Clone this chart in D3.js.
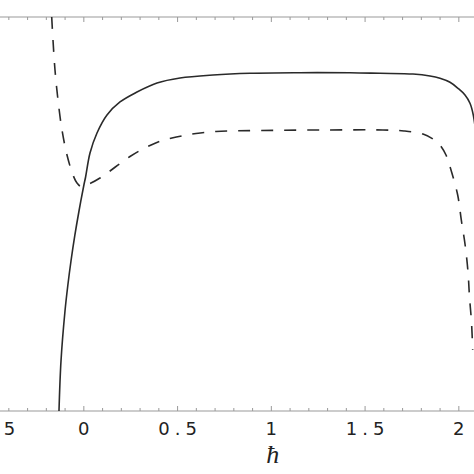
<!DOCTYPE html>
<html><head><meta charset="utf-8">
<script src="https://cdn.jsdelivr.net/npm/d3@7"></script>
<style>
html,body{margin:0;padding:0;background:#fff;}
svg{display:block;}
</style></head>
<body>
<script>
// x values (ħ) and y values (arbitrary units, unlabeled axis)
const solidX = [-0.1298,-0.1191,-0.0978,-0.0831,-0.0658,-0.0458,-0.0231,0.0030,0.0121,0.0356,0.0729,0.1262,0.1956,0.2862,0.3929,0.5156,0.6916,0.8889,1.1556,1.4222,1.5822,1.7582,1.8489,1.9022,1.9556,1.9982,2.0356,2.0622,2.0798,2.0978];
const solidY = [0,0.1269,0.2538,0.3173,0.3807,0.4442,0.5076,0.5736,0.5939,0.6548,0.7056,0.7513,0.7843,0.8096,0.8325,0.8452,0.8528,0.8571,0.8586,0.8586,0.8571,0.8553,0.8503,0.8444,0.8343,0.8190,0.8020,0.7810,0.7513,0.6878];
const dashX = [-0.1687,-0.1618,-0.1511,-0.1351,-0.1138,-0.0871,-0.0551,-0.0338,-0.0124,0.0142,0.0409,0.0889,0.1422,0.1956,0.2489,0.3022,0.3556,0.4142,0.4729,0.5369,0.6009,0.7076,0.9422,1.2622,1.5982,1.7102,1.8116,1.8649,1.9022,1.9342,1.9609,1.9966,2.0158,2.0356,2.0516,2.0596,2.0702,2.0766];
const dashY = [1.0,0.9416,0.8655,0.7893,0.7132,0.6497,0.5990,0.5787,0.5698,0.5736,0.5787,0.5914,0.6091,0.6282,0.6459,0.6612,0.6739,0.6853,0.6929,0.6992,0.7043,0.7094,0.7119,0.7132,0.7132,0.7107,0.7030,0.6904,0.6751,0.6497,0.6117,0.5482,0.4848,0.4239,0.3528,0.2893,0.2259,0.1548];
const majorTicks = [-0.5,0,0.5,1,1.5,2];
const tickLabels = ["-0.5","0","0.5","1","1.5","2"];
const minorTicks = [-0.6,-0.4,-0.3,-0.2,-0.1,0.1,0.2,0.3,0.4,0.6,0.7,0.8,0.9,1.1,1.2,1.3,1.4,1.6,1.7,1.8,1.9,2.1];
const xLabel = "ħ";

const W = 474, H = 474;
const plotTop = 17, plotBottom = 411;
const x = d3.scaleLinear().domain([0, 1]).range([83.33, 270.83]);
const y = d3.scaleLinear().domain([0, 1]).range([plotBottom, plotTop]);

const svg = d3.select("body").append("svg").attr("width", W).attr("height", H);

svg.append("defs").append("clipPath").attr("id","clip")
  .append("rect").attr("x",0).attr("y",plotTop).attr("width",W).attr("height",plotBottom-plotTop);

const axisColor = "#999";
function drawAxis(g){
  g.selectAll(".domain").remove();
  g.selectAll("line").attr("stroke", axisColor).attr("stroke-width", 1);
}
// bottom axis
const gB = svg.append("g").attr("transform", `translate(0,${plotBottom})`);
gB.call(d3.axisBottom(x).tickValues(minorTicks).tickSize(-3).tickFormat(""));
drawAxis(gB);
const gB2 = svg.append("g").attr("transform", `translate(0,${plotBottom})`);
gB2.call(d3.axisBottom(x).tickValues(majorTicks).tickSize(-5).tickPadding(11)
  .tickFormat((d,i)=>tickLabels[i]));
drawAxis(gB2);
gB2.selectAll("text").attr("font-family","DejaVu Sans, sans-serif").attr("font-size",18)
  .attr("fill","#222").style("letter-spacing","5px").attr("dx","2.5px");

// top frame axis
const gT = svg.append("g").attr("transform", `translate(0,${plotTop})`);
gT.call(d3.axisTop(x).tickValues(minorTicks).tickSize(-3).tickFormat(""));
drawAxis(gT);
const gT2 = svg.append("g").attr("transform", `translate(0,${plotTop})`);
gT2.call(d3.axisTop(x).tickValues(majorTicks).tickSize(-5).tickFormat(""));
drawAxis(gT2);

svg.append("line").attr("x1",0).attr("x2",W).attr("y1",plotBottom).attr("y2",plotBottom)
  .attr("stroke",axisColor).attr("stroke-width",1.2);
svg.append("line").attr("x1",0).attr("x2",W).attr("y1",plotTop).attr("y2",plotTop)
  .attr("stroke",axisColor).attr("stroke-width",1.2);

const line = d3.line().x(d=>x(d[0])).y(d=>y(d[1])).curve(d3.curveCatmullRom.alpha(0.5));
const solid = solidX.map((v,i)=>[v, solidY[i]]);
const dashed = dashX.map((v,i)=>[v, dashY[i]]);

const plot = svg.append("g").attr("clip-path","url(#clip)");
plot.append("path").attr("d", line(solid)).attr("fill","none")
  .attr("stroke","#2a2a2a").attr("stroke-width",1.6);
plot.append("path").attr("d", line(dashed)).attr("fill","none")
  .attr("stroke","#2a2a2a").attr("stroke-width",1.6).attr("stroke-dasharray","12,11");

svg.append("text").attr("x", x(1)+2).attr("y", 463).attr("text-anchor","middle")
  .attr("font-family","Liberation Serif, DejaVu Serif, serif").attr("font-style","italic")
  .attr("font-size",26).attr("fill","#222").text(xLabel);
</script>
</body></html>
